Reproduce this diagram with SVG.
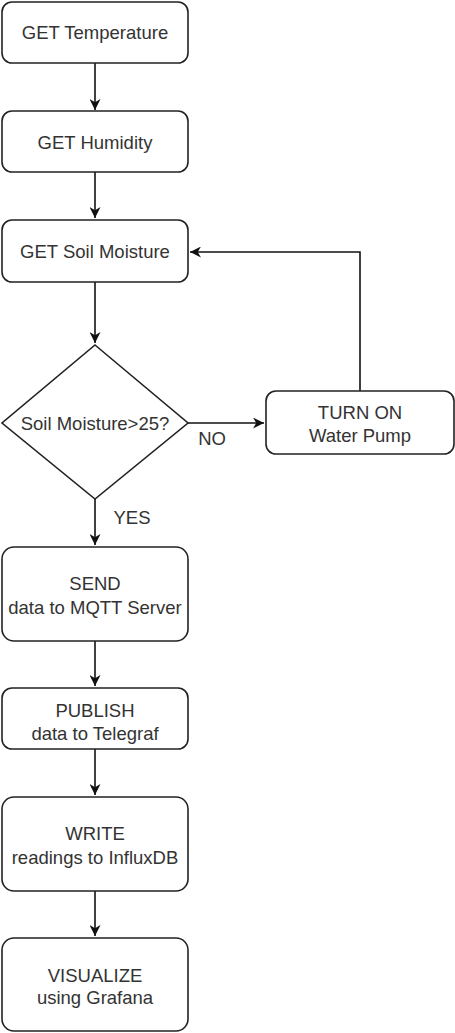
<svg xmlns="http://www.w3.org/2000/svg" width="455" height="1033" viewBox="0 0 455 1033">
<style>
.n{fill:#fff;stroke:#222;stroke-width:1.6}
.t{font-family:"Liberation Sans",Arial,sans-serif;font-size:18.5px;fill:#333;text-anchor:middle;dominant-baseline:central}
.c{fill:none;stroke:#111;stroke-width:1.6}
</style>
<defs>
<marker id="a" viewBox="0 0 10 10" refX="10" refY="5" markerWidth="11" markerHeight="11" markerUnits="userSpaceOnUse" orient="auto">
<path d="M0,0 L10,5 L0,10 L3,5 z" fill="#111"/>
</marker>
</defs>
<rect width="455" height="1033" fill="#fff"/>
<g id="connectors">
<path class="c" d="M95,63 V110" marker-end="url(#a)"/>
<path class="c" d="M95,172 V218" marker-end="url(#a)"/>
<path class="c" d="M95,282 V343" marker-end="url(#a)"/>
<path class="c" d="M188,423 H264" marker-end="url(#a)"/>
<path class="c" d="M360,391 V252 H190" marker-end="url(#a)"/>
<path class="c" d="M95,499 V545" marker-end="url(#a)"/>
<path class="c" d="M95,641 V686" marker-end="url(#a)"/>
<path class="c" d="M95,749 V795" marker-end="url(#a)"/>
<path class="c" d="M95,891 V936" marker-end="url(#a)"/>
<text class="t" x="212" y="438">NO</text>
<text class="t" x="132" y="517">YES</text>
</g>
<g id="n1"><rect class="n" x="2" y="2" width="186" height="61" rx="10"/><text class="t" x="95" y="32">GET Temperature</text></g>
<g id="n2"><rect class="n" x="2" y="111" width="186" height="61" rx="10"/><text class="t" x="95" y="142">GET Humidity</text></g>
<g id="n3"><rect class="n" x="2" y="220" width="186" height="62" rx="10"/><text class="t" x="95" y="251">GET Soil Moisture</text></g>
<g id="n4"><polygon class="n" points="95,345 188,423 95,499 2,423"/><text class="t" x="95" y="423">Soil Moisture&gt;25?</text></g>
<g id="n5"><rect class="n" x="266" y="391" width="188" height="63" rx="10"/><text class="t" x="360" y="412">TURN ON</text><text class="t" x="360" y="435">Water Pump</text></g>
<g id="n6"><rect class="n" x="2" y="547" width="186" height="94" rx="12"/><text class="t" x="95" y="583">SEND</text><text class="t" x="95" y="607">data to MQTT Server</text></g>
<g id="n7"><rect class="n" x="2" y="688" width="186" height="61" rx="10"/><text class="t" x="95" y="710">PUBLISH</text><text class="t" x="95" y="733">data to Telegraf</text></g>
<g id="n8"><rect class="n" x="2" y="797" width="186" height="94" rx="12"/><text class="t" x="95" y="833">WRITE</text><text class="t" x="95" y="857">readings to InfluxDB</text></g>
<g id="n9"><rect class="n" x="2" y="938" width="186" height="93" rx="12"/><text class="t" x="95" y="975">VISUALIZE</text><text class="t" x="95" y="997">using Grafana</text></g>
</svg>
